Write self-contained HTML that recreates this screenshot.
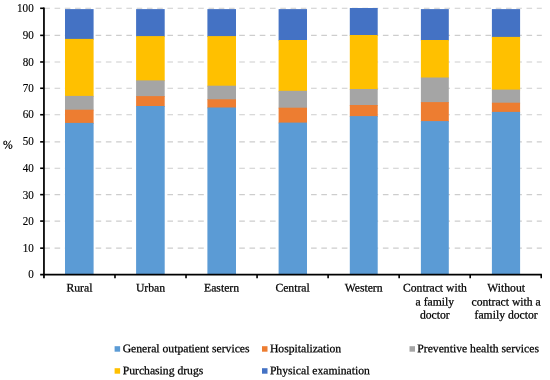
<!DOCTYPE html>
<html><head><meta charset="utf-8"><title>Chart</title>
<style>html,body{margin:0;padding:0;background:#fff}svg{display:block}</style>
</head><body>
<svg width="550" height="380" viewBox="0 0 550 380">
<rect width="550" height="380" fill="#fff"/>
<line x1="44.3" x2="541.8" y1="248.15" y2="248.15" stroke="#CDCDCD" stroke-width="1.15" stroke-dasharray="5.6 4.66"/>
<line x1="44.3" x2="541.8" y1="221.09" y2="221.09" stroke="#CDCDCD" stroke-width="1.15" stroke-dasharray="5.6 4.66"/>
<line x1="44.3" x2="541.8" y1="194.64" y2="194.64" stroke="#CDCDCD" stroke-width="1.15" stroke-dasharray="5.6 4.66"/>
<line x1="44.3" x2="541.8" y1="168.26" y2="168.26" stroke="#CDCDCD" stroke-width="1.15" stroke-dasharray="5.6 4.66"/>
<line x1="44.3" x2="541.8" y1="141.85" y2="141.85" stroke="#CDCDCD" stroke-width="1.15" stroke-dasharray="5.6 4.66"/>
<line x1="44.3" x2="541.8" y1="114.73" y2="114.73" stroke="#CDCDCD" stroke-width="1.15" stroke-dasharray="5.6 4.66"/>
<line x1="44.3" x2="541.8" y1="88.26" y2="88.26" stroke="#CDCDCD" stroke-width="1.15" stroke-dasharray="5.6 4.66"/>
<line x1="44.3" x2="541.8" y1="61.98" y2="61.98" stroke="#CDCDCD" stroke-width="1.15" stroke-dasharray="5.6 4.66"/>
<line x1="44.3" x2="541.8" y1="35.37" y2="35.37" stroke="#CDCDCD" stroke-width="1.15" stroke-dasharray="5.6 4.66"/>
<line x1="44.3" x2="541.8" y1="8.29" y2="8.29" stroke="#CDCDCD" stroke-width="1.15" stroke-dasharray="5.6 4.66"/>
<rect x="65.00" y="9.10" width="28.6" height="30.60" fill="#4472C4"/>
<rect x="65.00" y="38.90" width="28.6" height="57.80" fill="#FFC000"/>
<rect x="65.00" y="95.90" width="28.6" height="14.60" fill="#A5A5A5"/>
<rect x="65.00" y="109.70" width="28.6" height="14.00" fill="#ED7D31"/>
<rect x="65.00" y="122.90" width="28.6" height="151.72" fill="#5B9BD5"/>
<rect x="136.10" y="9.10" width="28.6" height="27.80" fill="#4472C4"/>
<rect x="136.10" y="36.10" width="28.6" height="45.10" fill="#FFC000"/>
<rect x="136.10" y="80.40" width="28.6" height="16.50" fill="#A5A5A5"/>
<rect x="136.10" y="96.10" width="28.6" height="10.70" fill="#ED7D31"/>
<rect x="136.10" y="106.00" width="28.6" height="168.62" fill="#5B9BD5"/>
<rect x="207.40" y="9.10" width="28.6" height="27.80" fill="#4472C4"/>
<rect x="207.40" y="36.10" width="28.6" height="50.40" fill="#FFC000"/>
<rect x="207.40" y="85.70" width="28.6" height="14.40" fill="#A5A5A5"/>
<rect x="207.40" y="99.30" width="28.6" height="9.00" fill="#ED7D31"/>
<rect x="207.40" y="107.50" width="28.6" height="167.12" fill="#5B9BD5"/>
<rect x="278.60" y="9.10" width="28.4" height="31.70" fill="#4472C4"/>
<rect x="278.60" y="40.00" width="28.4" height="51.60" fill="#FFC000"/>
<rect x="278.60" y="90.80" width="28.4" height="17.70" fill="#A5A5A5"/>
<rect x="278.60" y="107.70" width="28.4" height="15.70" fill="#ED7D31"/>
<rect x="278.60" y="122.60" width="28.4" height="152.02" fill="#5B9BD5"/>
<rect x="349.80" y="8.00" width="27.9" height="27.80" fill="#4472C4"/>
<rect x="349.80" y="35.00" width="27.9" height="54.80" fill="#FFC000"/>
<rect x="349.80" y="89.00" width="27.9" height="16.80" fill="#A5A5A5"/>
<rect x="349.80" y="105.00" width="27.9" height="11.90" fill="#ED7D31"/>
<rect x="349.80" y="116.10" width="27.9" height="158.52" fill="#5B9BD5"/>
<rect x="420.90" y="9.10" width="27.9" height="31.70" fill="#4472C4"/>
<rect x="420.90" y="40.00" width="27.9" height="38.30" fill="#FFC000"/>
<rect x="420.90" y="77.50" width="27.9" height="25.40" fill="#A5A5A5"/>
<rect x="420.90" y="102.10" width="27.9" height="19.80" fill="#ED7D31"/>
<rect x="420.90" y="121.10" width="27.9" height="153.52" fill="#5B9BD5"/>
<rect x="491.90" y="9.10" width="28.2" height="28.60" fill="#4472C4"/>
<rect x="491.90" y="36.90" width="28.2" height="53.50" fill="#FFC000"/>
<rect x="491.90" y="89.60" width="28.2" height="13.90" fill="#A5A5A5"/>
<rect x="491.90" y="102.70" width="28.2" height="10.00" fill="#ED7D31"/>
<rect x="491.90" y="111.90" width="28.2" height="162.72" fill="#5B9BD5"/>
<line x1="43.95" x2="43.95" y1="7.59" y2="278.22" stroke="#000" stroke-width="1.75"/>
<line x1="40.15" x2="541.9" y1="274.62" y2="274.62" stroke="#000" stroke-width="1.6"/>
<line x1="40.15" x2="43.95" y1="248.15" y2="248.15" stroke="#000" stroke-width="1.6"/>
<line x1="40.15" x2="43.95" y1="221.09" y2="221.09" stroke="#000" stroke-width="1.6"/>
<line x1="40.15" x2="43.95" y1="194.64" y2="194.64" stroke="#000" stroke-width="1.6"/>
<line x1="40.15" x2="43.95" y1="168.26" y2="168.26" stroke="#000" stroke-width="1.6"/>
<line x1="40.15" x2="43.95" y1="141.85" y2="141.85" stroke="#000" stroke-width="1.6"/>
<line x1="40.15" x2="43.95" y1="114.73" y2="114.73" stroke="#000" stroke-width="1.6"/>
<line x1="40.15" x2="43.95" y1="88.26" y2="88.26" stroke="#000" stroke-width="1.6"/>
<line x1="40.15" x2="43.95" y1="61.98" y2="61.98" stroke="#000" stroke-width="1.6"/>
<line x1="40.15" x2="43.95" y1="35.37" y2="35.37" stroke="#000" stroke-width="1.6"/>
<line x1="40.15" x2="43.95" y1="8.29" y2="8.29" stroke="#000" stroke-width="1.6"/>
<line x1="114.99" x2="114.99" y1="274.62" y2="278.22" stroke="#000" stroke-width="1.6"/>
<line x1="186.03" x2="186.03" y1="274.62" y2="278.22" stroke="#000" stroke-width="1.6"/>
<line x1="257.07" x2="257.07" y1="274.62" y2="278.22" stroke="#000" stroke-width="1.6"/>
<line x1="328.11" x2="328.11" y1="274.62" y2="278.22" stroke="#000" stroke-width="1.6"/>
<line x1="399.15" x2="399.15" y1="274.62" y2="278.22" stroke="#000" stroke-width="1.6"/>
<line x1="470.19" x2="470.19" y1="274.62" y2="278.22" stroke="#000" stroke-width="1.6"/>
<line x1="541.23" x2="541.23" y1="274.62" y2="278.22" stroke="#000" stroke-width="1.6"/>
<g font-family="'Liberation Serif', serif" font-size="11.67" fill="#000" stroke="#000" stroke-width="0.25" transform="matrix(1 0.0005 0 1 0 0)">
<text transform="translate(33.7 277.82) scale(0.95 1.03)" text-anchor="end" stroke-width="0.15">0</text>
<text transform="translate(33.7 251.69) scale(0.95 1.03)" text-anchor="end" stroke-width="0.15">10</text>
<text transform="translate(33.7 225.04) scale(0.95 1.03)" text-anchor="end" stroke-width="0.15">20</text>
<text transform="translate(33.7 198.82) scale(0.95 1.03)" text-anchor="end" stroke-width="0.15">30</text>
<text transform="translate(33.7 172.04) scale(0.95 1.03)" text-anchor="end" stroke-width="0.15">40</text>
<text transform="translate(33.7 144.79) scale(0.95 1.03)" text-anchor="end" stroke-width="0.15">50</text>
<text transform="translate(33.7 118.39) scale(0.95 1.03)" text-anchor="end" stroke-width="0.15">60</text>
<text transform="translate(33.7 91.99) scale(0.95 1.03)" text-anchor="end" stroke-width="0.15">70</text>
<text transform="translate(33.7 66.05) scale(0.95 1.03)" text-anchor="end" stroke-width="0.15">80</text>
<text transform="translate(33.7 38.84) scale(0.95 1.03)" text-anchor="end" stroke-width="0.15">90</text>
<text transform="translate(33.7 11.79) scale(0.95 1.03)" text-anchor="end" stroke-width="0.15">100</text>
<text x="3.00" y="148.60">%</text>
<text x="79.47" y="291.56" text-anchor="middle">Rural</text>
<text x="150.51" y="291.52" text-anchor="middle">Urban</text>
<text x="221.55" y="291.49" text-anchor="middle">Eastern</text>
<text x="292.59" y="291.45" text-anchor="middle">Central</text>
<text x="363.63" y="291.42" text-anchor="middle">Western</text>
<text x="434.87" y="291.38" text-anchor="middle">Contract with</text>
<text x="434.87" y="305.38" text-anchor="middle">a family</text>
<text x="434.87" y="318.38" text-anchor="middle">doctor</text>
<text x="506.11" y="291.35" text-anchor="middle">Without</text>
<text x="506.11" y="305.35" text-anchor="middle">contract with a</text>
<text x="506.11" y="318.35" text-anchor="middle">family doctor</text>
</g>
<rect x="114.6" y="346.2" width="5.5" height="5.5" fill="#5B9BD5"/>
<rect x="262.0" y="346.2" width="5.5" height="5.5" fill="#ED7D31"/>
<rect x="409.5" y="346.2" width="5.5" height="5.5" fill="#A5A5A5"/>
<rect x="114.6" y="368.2" width="5.5" height="5.5" fill="#FFC000"/>
<rect x="262.0" y="368.2" width="5.5" height="5.5" fill="#4472C4"/>
<g font-family="'Liberation Serif', serif" font-size="11.67" fill="#000" stroke="#000" stroke-width="0.25" transform="matrix(1 0.0005 0 1 0 0)">
<text x="122.70" y="352.11">General outpatient services</text>
<text x="269.90" y="352.04">Hospitalization</text>
<text x="417.30" y="351.97">Preventive health services</text>
<text x="122.70" y="374.11">Purchasing drugs</text>
<text x="269.90" y="374.04">Physical examination</text>
</g>
</svg>
</body></html>
